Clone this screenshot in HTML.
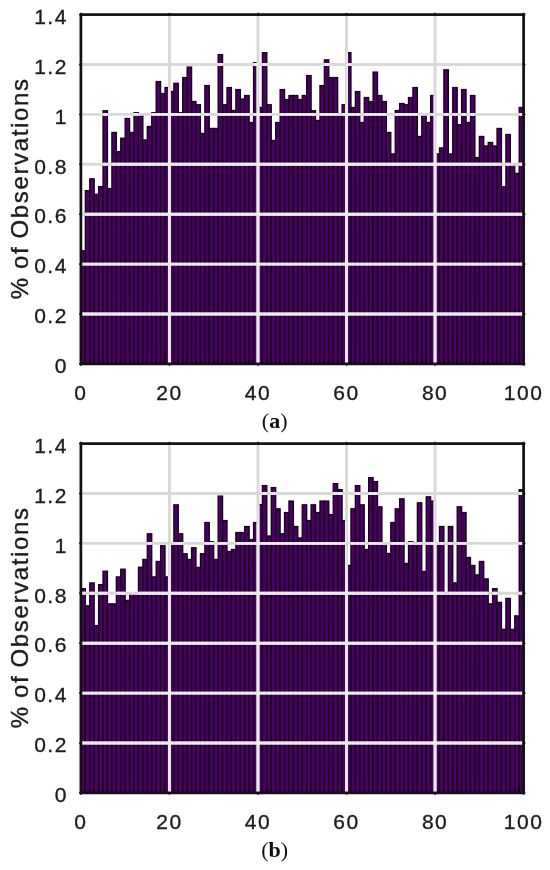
<!DOCTYPE html>
<html><head><meta charset="utf-8"><title>Histogram</title>
<style>
html,body{margin:0;padding:0;background:#fff;}
svg{display:block;}
.tk text{font-family:"Liberation Sans",Arial,Helvetica,sans-serif;font-size:21px;fill:#1c1c1c;letter-spacing:1.5px;stroke:#1c1c1c;stroke-width:0.35px;}
.yl{font-family:"Liberation Sans",Arial,Helvetica,sans-serif;font-size:24px;fill:#1c1c1c;letter-spacing:1.65px;word-spacing:-1.2px;stroke:#1c1c1c;stroke-width:0.35px;}
.cap{font-family:"Liberation Serif","DejaVu Serif",serif;font-size:22px;fill:#111;}
</style></head>
<body>
<svg width="550" height="870" viewBox="0 0 550 870">
<rect width="550" height="870" fill="#ffffff"/>
<g fill="#4a0062" stroke="#140018" stroke-width="1.3">
<rect x="80.90" y="250.73" width="4.43" height="113.17"/>
<rect x="85.33" y="190.60" width="4.43" height="173.30"/>
<rect x="89.75" y="178.87" width="4.43" height="185.03"/>
<rect x="94.18" y="194.34" width="4.43" height="169.56"/>
<rect x="98.61" y="186.61" width="4.43" height="177.29"/>
<rect x="103.04" y="110.76" width="4.43" height="253.14"/>
<rect x="107.46" y="188.60" width="4.43" height="175.30"/>
<rect x="111.89" y="132.46" width="4.43" height="231.44"/>
<rect x="116.32" y="151.68" width="4.43" height="212.22"/>
<rect x="120.74" y="138.20" width="4.43" height="225.70"/>
<rect x="125.17" y="118.49" width="4.43" height="245.41"/>
<rect x="129.60" y="132.46" width="4.43" height="231.44"/>
<rect x="134.02" y="112.75" width="4.43" height="251.15"/>
<rect x="138.45" y="115.50" width="4.43" height="248.40"/>
<rect x="142.88" y="139.95" width="4.43" height="223.95"/>
<rect x="147.31" y="126.48" width="4.43" height="237.42"/>
<rect x="151.73" y="112.75" width="4.43" height="251.15"/>
<rect x="156.16" y="81.57" width="4.43" height="282.33"/>
<rect x="160.59" y="93.54" width="4.43" height="270.36"/>
<rect x="165.01" y="87.55" width="4.43" height="276.35"/>
<rect x="169.44" y="91.55" width="4.43" height="272.35"/>
<rect x="173.87" y="83.31" width="4.43" height="280.59"/>
<rect x="178.29" y="112.75" width="4.43" height="251.15"/>
<rect x="182.72" y="77.58" width="4.43" height="286.32"/>
<rect x="187.15" y="67.10" width="4.43" height="296.80"/>
<rect x="191.58" y="101.53" width="4.43" height="262.37"/>
<rect x="196.00" y="104.77" width="4.43" height="259.13"/>
<rect x="200.43" y="133.46" width="4.43" height="230.44"/>
<rect x="204.86" y="85.56" width="4.43" height="278.34"/>
<rect x="209.28" y="128.47" width="4.43" height="235.43"/>
<rect x="213.71" y="128.47" width="4.43" height="235.43"/>
<rect x="218.14" y="54.62" width="4.43" height="309.28"/>
<rect x="222.56" y="104.77" width="4.43" height="259.13"/>
<rect x="226.99" y="87.55" width="4.43" height="276.35"/>
<rect x="231.42" y="110.51" width="4.43" height="253.39"/>
<rect x="235.85" y="89.55" width="4.43" height="274.35"/>
<rect x="240.27" y="99.03" width="4.43" height="264.87"/>
<rect x="244.70" y="95.54" width="4.43" height="268.36"/>
<rect x="249.13" y="122.49" width="4.43" height="241.41"/>
<rect x="253.55" y="62.60" width="4.43" height="301.29"/>
<rect x="257.98" y="107.52" width="4.43" height="256.38"/>
<rect x="262.41" y="52.63" width="4.43" height="311.27"/>
<rect x="266.83" y="104.77" width="4.43" height="259.13"/>
<rect x="271.26" y="140.45" width="4.43" height="223.45"/>
<rect x="275.69" y="122.49" width="4.43" height="241.41"/>
<rect x="280.12" y="89.55" width="4.43" height="274.35"/>
<rect x="284.54" y="99.53" width="4.43" height="264.37"/>
<rect x="288.97" y="95.54" width="4.43" height="268.36"/>
<rect x="293.40" y="95.54" width="4.43" height="268.36"/>
<rect x="297.82" y="99.53" width="4.43" height="264.37"/>
<rect x="302.25" y="95.54" width="4.43" height="268.36"/>
<rect x="306.68" y="75.58" width="4.43" height="288.32"/>
<rect x="311.10" y="110.76" width="4.43" height="253.14"/>
<rect x="315.53" y="120.49" width="4.43" height="243.41"/>
<rect x="319.96" y="85.56" width="4.43" height="278.34"/>
<rect x="324.38" y="59.86" width="4.43" height="304.04"/>
<rect x="328.81" y="77.58" width="4.43" height="286.32"/>
<rect x="333.24" y="77.58" width="4.43" height="286.32"/>
<rect x="337.67" y="115.00" width="4.43" height="248.90"/>
<rect x="342.09" y="104.77" width="4.43" height="259.13"/>
<rect x="346.52" y="52.63" width="4.43" height="311.27"/>
<rect x="350.95" y="107.52" width="4.43" height="256.38"/>
<rect x="355.37" y="91.55" width="4.43" height="272.35"/>
<rect x="359.80" y="122.49" width="4.43" height="241.41"/>
<rect x="364.23" y="97.53" width="4.43" height="266.37"/>
<rect x="368.66" y="101.53" width="4.43" height="262.37"/>
<rect x="373.08" y="72.09" width="4.43" height="291.81"/>
<rect x="377.51" y="95.54" width="4.43" height="268.36"/>
<rect x="381.94" y="101.53" width="4.43" height="262.37"/>
<rect x="386.36" y="132.46" width="4.43" height="231.44"/>
<rect x="390.79" y="153.92" width="4.43" height="209.98"/>
<rect x="395.22" y="110.51" width="4.43" height="253.39"/>
<rect x="399.64" y="103.52" width="4.43" height="260.38"/>
<rect x="404.07" y="104.77" width="4.43" height="259.13"/>
<rect x="408.50" y="97.53" width="4.43" height="266.37"/>
<rect x="412.93" y="87.55" width="4.43" height="276.35"/>
<rect x="417.35" y="136.46" width="4.43" height="227.44"/>
<rect x="421.78" y="115.50" width="4.43" height="248.40"/>
<rect x="426.21" y="122.49" width="4.43" height="241.41"/>
<rect x="430.63" y="95.54" width="4.43" height="268.36"/>
<rect x="435.06" y="153.92" width="4.43" height="209.98"/>
<rect x="439.49" y="147.93" width="4.43" height="215.97"/>
<rect x="443.91" y="69.84" width="4.43" height="294.06"/>
<rect x="448.34" y="153.92" width="4.43" height="209.98"/>
<rect x="452.77" y="87.55" width="4.43" height="276.35"/>
<rect x="457.20" y="124.73" width="4.43" height="239.17"/>
<rect x="461.62" y="89.55" width="4.43" height="274.35"/>
<rect x="466.05" y="122.49" width="4.43" height="241.41"/>
<rect x="470.48" y="95.54" width="4.43" height="268.36"/>
<rect x="474.90" y="157.66" width="4.43" height="206.24"/>
<rect x="479.33" y="136.46" width="4.43" height="227.44"/>
<rect x="483.76" y="145.94" width="4.43" height="217.96"/>
<rect x="488.18" y="142.44" width="4.43" height="221.45"/>
<rect x="492.61" y="145.94" width="4.43" height="217.96"/>
<rect x="497.04" y="128.47" width="4.43" height="235.43"/>
<rect x="501.47" y="186.86" width="4.43" height="177.04"/>
<rect x="505.89" y="134.46" width="4.43" height="229.44"/>
<rect x="510.32" y="165.40" width="4.43" height="198.50"/>
<rect x="514.75" y="173.38" width="4.43" height="190.52"/>
<rect x="519.17" y="107.52" width="4.43" height="256.38"/>
</g>
<g stroke="#d9d9d9" stroke-width="2.9">
<line x1="80.9" x2="523.6" y1="314.00" y2="314.00"/>
<line x1="80.9" x2="523.6" y1="264.10" y2="264.10"/>
<line x1="80.9" x2="523.6" y1="214.20" y2="214.20"/>
<line x1="80.9" x2="523.6" y1="164.30" y2="164.30"/>
<line x1="80.9" x2="523.6" y1="114.40" y2="114.40"/>
<line x1="80.9" x2="523.6" y1="64.50" y2="64.50"/>
<line x1="169.44" x2="169.44" y1="14.6" y2="363.9"/>
<line x1="257.98" x2="257.98" y1="14.6" y2="363.9"/>
<line x1="346.52" x2="346.52" y1="14.6" y2="363.9"/>
<line x1="435.06" x2="435.06" y1="14.6" y2="363.9"/>
</g>
<clipPath id="clipa">
<rect x="80.90" y="250.73" width="4.43" height="113.17"/>
<rect x="85.33" y="190.60" width="4.43" height="173.30"/>
<rect x="89.75" y="178.87" width="4.43" height="185.03"/>
<rect x="94.18" y="194.34" width="4.43" height="169.56"/>
<rect x="98.61" y="186.61" width="4.43" height="177.29"/>
<rect x="103.04" y="110.76" width="4.43" height="253.14"/>
<rect x="107.46" y="188.60" width="4.43" height="175.30"/>
<rect x="111.89" y="132.46" width="4.43" height="231.44"/>
<rect x="116.32" y="151.68" width="4.43" height="212.22"/>
<rect x="120.74" y="138.20" width="4.43" height="225.70"/>
<rect x="125.17" y="118.49" width="4.43" height="245.41"/>
<rect x="129.60" y="132.46" width="4.43" height="231.44"/>
<rect x="134.02" y="112.75" width="4.43" height="251.15"/>
<rect x="138.45" y="115.50" width="4.43" height="248.40"/>
<rect x="142.88" y="139.95" width="4.43" height="223.95"/>
<rect x="147.31" y="126.48" width="4.43" height="237.42"/>
<rect x="151.73" y="112.75" width="4.43" height="251.15"/>
<rect x="156.16" y="81.57" width="4.43" height="282.33"/>
<rect x="160.59" y="93.54" width="4.43" height="270.36"/>
<rect x="165.01" y="87.55" width="4.43" height="276.35"/>
<rect x="169.44" y="91.55" width="4.43" height="272.35"/>
<rect x="173.87" y="83.31" width="4.43" height="280.59"/>
<rect x="178.29" y="112.75" width="4.43" height="251.15"/>
<rect x="182.72" y="77.58" width="4.43" height="286.32"/>
<rect x="187.15" y="67.10" width="4.43" height="296.80"/>
<rect x="191.58" y="101.53" width="4.43" height="262.37"/>
<rect x="196.00" y="104.77" width="4.43" height="259.13"/>
<rect x="200.43" y="133.46" width="4.43" height="230.44"/>
<rect x="204.86" y="85.56" width="4.43" height="278.34"/>
<rect x="209.28" y="128.47" width="4.43" height="235.43"/>
<rect x="213.71" y="128.47" width="4.43" height="235.43"/>
<rect x="218.14" y="54.62" width="4.43" height="309.28"/>
<rect x="222.56" y="104.77" width="4.43" height="259.13"/>
<rect x="226.99" y="87.55" width="4.43" height="276.35"/>
<rect x="231.42" y="110.51" width="4.43" height="253.39"/>
<rect x="235.85" y="89.55" width="4.43" height="274.35"/>
<rect x="240.27" y="99.03" width="4.43" height="264.87"/>
<rect x="244.70" y="95.54" width="4.43" height="268.36"/>
<rect x="249.13" y="122.49" width="4.43" height="241.41"/>
<rect x="253.55" y="62.60" width="4.43" height="301.29"/>
<rect x="257.98" y="107.52" width="4.43" height="256.38"/>
<rect x="262.41" y="52.63" width="4.43" height="311.27"/>
<rect x="266.83" y="104.77" width="4.43" height="259.13"/>
<rect x="271.26" y="140.45" width="4.43" height="223.45"/>
<rect x="275.69" y="122.49" width="4.43" height="241.41"/>
<rect x="280.12" y="89.55" width="4.43" height="274.35"/>
<rect x="284.54" y="99.53" width="4.43" height="264.37"/>
<rect x="288.97" y="95.54" width="4.43" height="268.36"/>
<rect x="293.40" y="95.54" width="4.43" height="268.36"/>
<rect x="297.82" y="99.53" width="4.43" height="264.37"/>
<rect x="302.25" y="95.54" width="4.43" height="268.36"/>
<rect x="306.68" y="75.58" width="4.43" height="288.32"/>
<rect x="311.10" y="110.76" width="4.43" height="253.14"/>
<rect x="315.53" y="120.49" width="4.43" height="243.41"/>
<rect x="319.96" y="85.56" width="4.43" height="278.34"/>
<rect x="324.38" y="59.86" width="4.43" height="304.04"/>
<rect x="328.81" y="77.58" width="4.43" height="286.32"/>
<rect x="333.24" y="77.58" width="4.43" height="286.32"/>
<rect x="337.67" y="115.00" width="4.43" height="248.90"/>
<rect x="342.09" y="104.77" width="4.43" height="259.13"/>
<rect x="346.52" y="52.63" width="4.43" height="311.27"/>
<rect x="350.95" y="107.52" width="4.43" height="256.38"/>
<rect x="355.37" y="91.55" width="4.43" height="272.35"/>
<rect x="359.80" y="122.49" width="4.43" height="241.41"/>
<rect x="364.23" y="97.53" width="4.43" height="266.37"/>
<rect x="368.66" y="101.53" width="4.43" height="262.37"/>
<rect x="373.08" y="72.09" width="4.43" height="291.81"/>
<rect x="377.51" y="95.54" width="4.43" height="268.36"/>
<rect x="381.94" y="101.53" width="4.43" height="262.37"/>
<rect x="386.36" y="132.46" width="4.43" height="231.44"/>
<rect x="390.79" y="153.92" width="4.43" height="209.98"/>
<rect x="395.22" y="110.51" width="4.43" height="253.39"/>
<rect x="399.64" y="103.52" width="4.43" height="260.38"/>
<rect x="404.07" y="104.77" width="4.43" height="259.13"/>
<rect x="408.50" y="97.53" width="4.43" height="266.37"/>
<rect x="412.93" y="87.55" width="4.43" height="276.35"/>
<rect x="417.35" y="136.46" width="4.43" height="227.44"/>
<rect x="421.78" y="115.50" width="4.43" height="248.40"/>
<rect x="426.21" y="122.49" width="4.43" height="241.41"/>
<rect x="430.63" y="95.54" width="4.43" height="268.36"/>
<rect x="435.06" y="153.92" width="4.43" height="209.98"/>
<rect x="439.49" y="147.93" width="4.43" height="215.97"/>
<rect x="443.91" y="69.84" width="4.43" height="294.06"/>
<rect x="448.34" y="153.92" width="4.43" height="209.98"/>
<rect x="452.77" y="87.55" width="4.43" height="276.35"/>
<rect x="457.20" y="124.73" width="4.43" height="239.17"/>
<rect x="461.62" y="89.55" width="4.43" height="274.35"/>
<rect x="466.05" y="122.49" width="4.43" height="241.41"/>
<rect x="470.48" y="95.54" width="4.43" height="268.36"/>
<rect x="474.90" y="157.66" width="4.43" height="206.24"/>
<rect x="479.33" y="136.46" width="4.43" height="227.44"/>
<rect x="483.76" y="145.94" width="4.43" height="217.96"/>
<rect x="488.18" y="142.44" width="4.43" height="221.45"/>
<rect x="492.61" y="145.94" width="4.43" height="217.96"/>
<rect x="497.04" y="128.47" width="4.43" height="235.43"/>
<rect x="501.47" y="186.86" width="4.43" height="177.04"/>
<rect x="505.89" y="134.46" width="4.43" height="229.44"/>
<rect x="510.32" y="165.40" width="4.43" height="198.50"/>
<rect x="514.75" y="173.38" width="4.43" height="190.52"/>
<rect x="519.17" y="107.52" width="4.43" height="256.38"/>
</clipPath>
<g clip-path="url(#clipa)">
<g stroke="#ececec" stroke-width="2.9">
<line x1="80.9" x2="523.6" y1="314.00" y2="314.00"/>
<line x1="80.9" x2="523.6" y1="264.10" y2="264.10"/>
<line x1="80.9" x2="523.6" y1="214.20" y2="214.20"/>
<line x1="80.9" x2="523.6" y1="164.30" y2="164.30"/>
<line x1="80.9" x2="523.6" y1="114.40" y2="114.40"/>
<line x1="80.9" x2="523.6" y1="64.50" y2="64.50"/>
<line x1="169.44" x2="169.44" y1="14.6" y2="363.9"/>
<line x1="257.98" x2="257.98" y1="14.6" y2="363.9"/>
<line x1="346.52" x2="346.52" y1="14.6" y2="363.9"/>
<line x1="435.06" x2="435.06" y1="14.6" y2="363.9"/>
</g>
</g>
<rect x="80.9" y="14.6" width="442.70" height="349.30" fill="none" stroke="#111111" stroke-width="2.7"/>
<g stroke="#111111" stroke-width="1.6">
<line x1="79.10000000000001" x2="81.9" y1="363.90" y2="363.90"/>
<line x1="522.6" x2="525.4" y1="363.90" y2="363.90"/>
<line x1="79.10000000000001" x2="81.9" y1="314.00" y2="314.00"/>
<line x1="522.6" x2="525.4" y1="314.00" y2="314.00"/>
<line x1="79.10000000000001" x2="81.9" y1="264.10" y2="264.10"/>
<line x1="522.6" x2="525.4" y1="264.10" y2="264.10"/>
<line x1="79.10000000000001" x2="81.9" y1="214.20" y2="214.20"/>
<line x1="522.6" x2="525.4" y1="214.20" y2="214.20"/>
<line x1="79.10000000000001" x2="81.9" y1="164.30" y2="164.30"/>
<line x1="522.6" x2="525.4" y1="164.30" y2="164.30"/>
<line x1="79.10000000000001" x2="81.9" y1="114.40" y2="114.40"/>
<line x1="522.6" x2="525.4" y1="114.40" y2="114.40"/>
<line x1="79.10000000000001" x2="81.9" y1="64.50" y2="64.50"/>
<line x1="522.6" x2="525.4" y1="64.50" y2="64.50"/>
<line x1="79.10000000000001" x2="81.9" y1="14.60" y2="14.60"/>
<line x1="522.6" x2="525.4" y1="14.60" y2="14.60"/>
<line x1="80.90" x2="80.90" y1="362.9" y2="365.7"/>
<line x1="80.90" x2="80.90" y1="12.799999999999999" y2="15.6"/>
<line x1="169.44" x2="169.44" y1="362.9" y2="365.7"/>
<line x1="169.44" x2="169.44" y1="12.799999999999999" y2="15.6"/>
<line x1="257.98" x2="257.98" y1="362.9" y2="365.7"/>
<line x1="257.98" x2="257.98" y1="12.799999999999999" y2="15.6"/>
<line x1="346.52" x2="346.52" y1="362.9" y2="365.7"/>
<line x1="346.52" x2="346.52" y1="12.799999999999999" y2="15.6"/>
<line x1="435.06" x2="435.06" y1="362.9" y2="365.7"/>
<line x1="435.06" x2="435.06" y1="12.799999999999999" y2="15.6"/>
<line x1="523.60" x2="523.60" y1="362.9" y2="365.7"/>
<line x1="523.60" x2="523.60" y1="12.799999999999999" y2="15.6"/>
</g>
<g class="tk" text-anchor="end">
<text x="67.9" y="373.10">0</text>
<text x="67.9" y="323.20">0.2</text>
<text x="67.9" y="273.30">0.4</text>
<text x="67.9" y="223.40">0.6</text>
<text x="67.9" y="173.50">0.8</text>
<text x="67.9" y="123.60">1</text>
<text x="67.9" y="73.70">1.2</text>
<text x="67.9" y="23.80">1.4</text>
</g>
<g class="tk" text-anchor="middle">
<text x="80.90" y="399.80">0</text>
<text x="169.44" y="399.80">20</text>
<text x="257.98" y="399.80">40</text>
<text x="346.52" y="399.80">60</text>
<text x="435.06" y="399.80">80</text>
<text x="523.60" y="399.80">100</text>
</g>
<text class="yl" text-anchor="middle" transform="translate(27.8,188.25) rotate(-90)">% of Observations</text>
<text class="cap" text-anchor="middle" x="274.7" y="428.4">(<tspan font-weight="bold">a</tspan>)</text>
<g fill="#4a0062" stroke="#140018" stroke-width="1.3">
<rect x="80.90" y="588.66" width="4.43" height="204.24"/>
<rect x="85.33" y="605.88" width="4.43" height="187.02"/>
<rect x="89.75" y="582.92" width="4.43" height="209.98"/>
<rect x="94.18" y="625.59" width="4.43" height="167.31"/>
<rect x="98.61" y="584.67" width="4.43" height="208.23"/>
<rect x="103.04" y="571.20" width="4.43" height="221.70"/>
<rect x="107.46" y="603.88" width="4.43" height="189.02"/>
<rect x="111.89" y="603.88" width="4.43" height="189.02"/>
<rect x="116.32" y="576.93" width="4.43" height="215.97"/>
<rect x="120.74" y="569.20" width="4.43" height="223.70"/>
<rect x="125.17" y="600.39" width="4.43" height="192.51"/>
<rect x="129.60" y="594.40" width="4.43" height="198.50"/>
<rect x="134.02" y="594.40" width="4.43" height="198.50"/>
<rect x="138.45" y="567.20" width="4.43" height="225.70"/>
<rect x="142.88" y="559.47" width="4.43" height="233.43"/>
<rect x="147.31" y="533.77" width="4.43" height="259.13"/>
<rect x="151.73" y="576.93" width="4.43" height="215.97"/>
<rect x="156.16" y="561.47" width="4.43" height="231.43"/>
<rect x="160.59" y="545.75" width="4.43" height="247.15"/>
<rect x="165.01" y="576.93" width="4.43" height="215.97"/>
<rect x="169.44" y="544.00" width="4.43" height="248.90"/>
<rect x="173.87" y="504.83" width="4.43" height="288.07"/>
<rect x="178.29" y="533.77" width="4.43" height="259.13"/>
<rect x="182.72" y="553.73" width="4.43" height="239.17"/>
<rect x="187.15" y="559.47" width="4.43" height="233.43"/>
<rect x="191.58" y="547.74" width="4.43" height="245.16"/>
<rect x="196.00" y="567.45" width="4.43" height="225.45"/>
<rect x="200.43" y="553.73" width="4.43" height="239.17"/>
<rect x="204.86" y="522.54" width="4.43" height="270.36"/>
<rect x="209.28" y="541.75" width="4.43" height="251.15"/>
<rect x="213.71" y="559.47" width="4.43" height="233.43"/>
<rect x="218.14" y="496.10" width="4.43" height="296.80"/>
<rect x="222.56" y="520.55" width="4.43" height="272.35"/>
<rect x="226.99" y="551.49" width="4.43" height="241.41"/>
<rect x="231.42" y="549.49" width="4.43" height="243.41"/>
<rect x="235.85" y="532.52" width="4.43" height="260.38"/>
<rect x="240.27" y="532.52" width="4.43" height="260.38"/>
<rect x="244.70" y="526.53" width="4.43" height="266.37"/>
<rect x="249.13" y="539.51" width="4.43" height="253.39"/>
<rect x="253.55" y="522.54" width="4.43" height="270.36"/>
<rect x="257.98" y="504.58" width="4.43" height="288.32"/>
<rect x="262.41" y="485.62" width="4.43" height="307.28"/>
<rect x="266.83" y="536.02" width="4.43" height="256.88"/>
<rect x="271.26" y="487.61" width="4.43" height="305.29"/>
<rect x="275.69" y="508.82" width="4.43" height="284.08"/>
<rect x="280.12" y="533.77" width="4.43" height="259.13"/>
<rect x="284.54" y="512.56" width="4.43" height="280.34"/>
<rect x="288.97" y="501.09" width="4.43" height="291.81"/>
<rect x="293.40" y="526.53" width="4.43" height="266.37"/>
<rect x="297.82" y="538.01" width="4.43" height="254.89"/>
<rect x="302.25" y="504.83" width="4.43" height="288.07"/>
<rect x="306.68" y="520.55" width="4.43" height="272.35"/>
<rect x="311.10" y="504.83" width="4.43" height="288.07"/>
<rect x="315.53" y="512.56" width="4.43" height="280.34"/>
<rect x="319.96" y="501.09" width="4.43" height="291.81"/>
<rect x="324.38" y="501.09" width="4.43" height="291.81"/>
<rect x="328.81" y="514.56" width="4.43" height="278.34"/>
<rect x="333.24" y="483.62" width="4.43" height="309.28"/>
<rect x="337.67" y="489.61" width="4.43" height="303.29"/>
<rect x="342.09" y="520.55" width="4.43" height="272.35"/>
<rect x="346.52" y="565.46" width="4.43" height="227.44"/>
<rect x="350.95" y="508.82" width="4.43" height="284.08"/>
<rect x="355.37" y="485.62" width="4.43" height="307.28"/>
<rect x="359.80" y="504.83" width="4.43" height="288.07"/>
<rect x="364.23" y="549.49" width="4.43" height="243.41"/>
<rect x="368.66" y="477.63" width="4.43" height="315.27"/>
<rect x="373.08" y="481.63" width="4.43" height="311.27"/>
<rect x="377.51" y="506.82" width="4.43" height="286.08"/>
<rect x="381.94" y="544.00" width="4.43" height="248.90"/>
<rect x="386.36" y="553.48" width="4.43" height="239.42"/>
<rect x="390.79" y="522.54" width="4.43" height="270.36"/>
<rect x="395.22" y="508.82" width="4.43" height="284.08"/>
<rect x="399.64" y="498.84" width="4.43" height="294.06"/>
<rect x="404.07" y="563.46" width="4.43" height="229.44"/>
<rect x="408.50" y="541.75" width="4.43" height="251.15"/>
<rect x="412.93" y="544.00" width="4.43" height="248.90"/>
<rect x="417.35" y="502.83" width="4.43" height="290.07"/>
<rect x="421.78" y="571.45" width="4.43" height="221.45"/>
<rect x="426.21" y="496.84" width="4.43" height="296.06"/>
<rect x="430.63" y="501.09" width="4.43" height="291.81"/>
<rect x="435.06" y="544.00" width="4.43" height="248.90"/>
<rect x="439.49" y="526.53" width="4.43" height="266.37"/>
<rect x="443.91" y="593.90" width="4.43" height="199.00"/>
<rect x="448.34" y="526.53" width="4.43" height="266.37"/>
<rect x="452.77" y="582.92" width="4.43" height="209.98"/>
<rect x="457.20" y="506.82" width="4.43" height="286.08"/>
<rect x="461.62" y="512.56" width="4.43" height="280.34"/>
<rect x="466.05" y="557.47" width="4.43" height="235.43"/>
<rect x="470.48" y="565.46" width="4.43" height="227.44"/>
<rect x="474.90" y="574.94" width="4.43" height="217.96"/>
<rect x="479.33" y="561.47" width="4.43" height="231.43"/>
<rect x="483.76" y="578.93" width="4.43" height="213.97"/>
<rect x="488.18" y="603.88" width="4.43" height="189.02"/>
<rect x="492.61" y="588.66" width="4.43" height="204.24"/>
<rect x="497.04" y="602.38" width="4.43" height="190.52"/>
<rect x="501.47" y="629.33" width="4.43" height="163.57"/>
<rect x="505.89" y="598.39" width="4.43" height="194.51"/>
<rect x="510.32" y="629.33" width="4.43" height="163.57"/>
<rect x="514.75" y="615.86" width="4.43" height="177.04"/>
<rect x="519.17" y="489.61" width="4.43" height="303.29"/>
</g>
<g stroke="#d9d9d9" stroke-width="2.9">
<line x1="80.9" x2="523.6" y1="743.00" y2="743.00"/>
<line x1="80.9" x2="523.6" y1="693.10" y2="693.10"/>
<line x1="80.9" x2="523.6" y1="643.20" y2="643.20"/>
<line x1="80.9" x2="523.6" y1="593.30" y2="593.30"/>
<line x1="80.9" x2="523.6" y1="543.40" y2="543.40"/>
<line x1="80.9" x2="523.6" y1="493.50" y2="493.50"/>
<line x1="169.44" x2="169.44" y1="443.6" y2="792.9"/>
<line x1="257.98" x2="257.98" y1="443.6" y2="792.9"/>
<line x1="346.52" x2="346.52" y1="443.6" y2="792.9"/>
<line x1="435.06" x2="435.06" y1="443.6" y2="792.9"/>
</g>
<clipPath id="clipb">
<rect x="80.90" y="588.66" width="4.43" height="204.24"/>
<rect x="85.33" y="605.88" width="4.43" height="187.02"/>
<rect x="89.75" y="582.92" width="4.43" height="209.98"/>
<rect x="94.18" y="625.59" width="4.43" height="167.31"/>
<rect x="98.61" y="584.67" width="4.43" height="208.23"/>
<rect x="103.04" y="571.20" width="4.43" height="221.70"/>
<rect x="107.46" y="603.88" width="4.43" height="189.02"/>
<rect x="111.89" y="603.88" width="4.43" height="189.02"/>
<rect x="116.32" y="576.93" width="4.43" height="215.97"/>
<rect x="120.74" y="569.20" width="4.43" height="223.70"/>
<rect x="125.17" y="600.39" width="4.43" height="192.51"/>
<rect x="129.60" y="594.40" width="4.43" height="198.50"/>
<rect x="134.02" y="594.40" width="4.43" height="198.50"/>
<rect x="138.45" y="567.20" width="4.43" height="225.70"/>
<rect x="142.88" y="559.47" width="4.43" height="233.43"/>
<rect x="147.31" y="533.77" width="4.43" height="259.13"/>
<rect x="151.73" y="576.93" width="4.43" height="215.97"/>
<rect x="156.16" y="561.47" width="4.43" height="231.43"/>
<rect x="160.59" y="545.75" width="4.43" height="247.15"/>
<rect x="165.01" y="576.93" width="4.43" height="215.97"/>
<rect x="169.44" y="544.00" width="4.43" height="248.90"/>
<rect x="173.87" y="504.83" width="4.43" height="288.07"/>
<rect x="178.29" y="533.77" width="4.43" height="259.13"/>
<rect x="182.72" y="553.73" width="4.43" height="239.17"/>
<rect x="187.15" y="559.47" width="4.43" height="233.43"/>
<rect x="191.58" y="547.74" width="4.43" height="245.16"/>
<rect x="196.00" y="567.45" width="4.43" height="225.45"/>
<rect x="200.43" y="553.73" width="4.43" height="239.17"/>
<rect x="204.86" y="522.54" width="4.43" height="270.36"/>
<rect x="209.28" y="541.75" width="4.43" height="251.15"/>
<rect x="213.71" y="559.47" width="4.43" height="233.43"/>
<rect x="218.14" y="496.10" width="4.43" height="296.80"/>
<rect x="222.56" y="520.55" width="4.43" height="272.35"/>
<rect x="226.99" y="551.49" width="4.43" height="241.41"/>
<rect x="231.42" y="549.49" width="4.43" height="243.41"/>
<rect x="235.85" y="532.52" width="4.43" height="260.38"/>
<rect x="240.27" y="532.52" width="4.43" height="260.38"/>
<rect x="244.70" y="526.53" width="4.43" height="266.37"/>
<rect x="249.13" y="539.51" width="4.43" height="253.39"/>
<rect x="253.55" y="522.54" width="4.43" height="270.36"/>
<rect x="257.98" y="504.58" width="4.43" height="288.32"/>
<rect x="262.41" y="485.62" width="4.43" height="307.28"/>
<rect x="266.83" y="536.02" width="4.43" height="256.88"/>
<rect x="271.26" y="487.61" width="4.43" height="305.29"/>
<rect x="275.69" y="508.82" width="4.43" height="284.08"/>
<rect x="280.12" y="533.77" width="4.43" height="259.13"/>
<rect x="284.54" y="512.56" width="4.43" height="280.34"/>
<rect x="288.97" y="501.09" width="4.43" height="291.81"/>
<rect x="293.40" y="526.53" width="4.43" height="266.37"/>
<rect x="297.82" y="538.01" width="4.43" height="254.89"/>
<rect x="302.25" y="504.83" width="4.43" height="288.07"/>
<rect x="306.68" y="520.55" width="4.43" height="272.35"/>
<rect x="311.10" y="504.83" width="4.43" height="288.07"/>
<rect x="315.53" y="512.56" width="4.43" height="280.34"/>
<rect x="319.96" y="501.09" width="4.43" height="291.81"/>
<rect x="324.38" y="501.09" width="4.43" height="291.81"/>
<rect x="328.81" y="514.56" width="4.43" height="278.34"/>
<rect x="333.24" y="483.62" width="4.43" height="309.28"/>
<rect x="337.67" y="489.61" width="4.43" height="303.29"/>
<rect x="342.09" y="520.55" width="4.43" height="272.35"/>
<rect x="346.52" y="565.46" width="4.43" height="227.44"/>
<rect x="350.95" y="508.82" width="4.43" height="284.08"/>
<rect x="355.37" y="485.62" width="4.43" height="307.28"/>
<rect x="359.80" y="504.83" width="4.43" height="288.07"/>
<rect x="364.23" y="549.49" width="4.43" height="243.41"/>
<rect x="368.66" y="477.63" width="4.43" height="315.27"/>
<rect x="373.08" y="481.63" width="4.43" height="311.27"/>
<rect x="377.51" y="506.82" width="4.43" height="286.08"/>
<rect x="381.94" y="544.00" width="4.43" height="248.90"/>
<rect x="386.36" y="553.48" width="4.43" height="239.42"/>
<rect x="390.79" y="522.54" width="4.43" height="270.36"/>
<rect x="395.22" y="508.82" width="4.43" height="284.08"/>
<rect x="399.64" y="498.84" width="4.43" height="294.06"/>
<rect x="404.07" y="563.46" width="4.43" height="229.44"/>
<rect x="408.50" y="541.75" width="4.43" height="251.15"/>
<rect x="412.93" y="544.00" width="4.43" height="248.90"/>
<rect x="417.35" y="502.83" width="4.43" height="290.07"/>
<rect x="421.78" y="571.45" width="4.43" height="221.45"/>
<rect x="426.21" y="496.84" width="4.43" height="296.06"/>
<rect x="430.63" y="501.09" width="4.43" height="291.81"/>
<rect x="435.06" y="544.00" width="4.43" height="248.90"/>
<rect x="439.49" y="526.53" width="4.43" height="266.37"/>
<rect x="443.91" y="593.90" width="4.43" height="199.00"/>
<rect x="448.34" y="526.53" width="4.43" height="266.37"/>
<rect x="452.77" y="582.92" width="4.43" height="209.98"/>
<rect x="457.20" y="506.82" width="4.43" height="286.08"/>
<rect x="461.62" y="512.56" width="4.43" height="280.34"/>
<rect x="466.05" y="557.47" width="4.43" height="235.43"/>
<rect x="470.48" y="565.46" width="4.43" height="227.44"/>
<rect x="474.90" y="574.94" width="4.43" height="217.96"/>
<rect x="479.33" y="561.47" width="4.43" height="231.43"/>
<rect x="483.76" y="578.93" width="4.43" height="213.97"/>
<rect x="488.18" y="603.88" width="4.43" height="189.02"/>
<rect x="492.61" y="588.66" width="4.43" height="204.24"/>
<rect x="497.04" y="602.38" width="4.43" height="190.52"/>
<rect x="501.47" y="629.33" width="4.43" height="163.57"/>
<rect x="505.89" y="598.39" width="4.43" height="194.51"/>
<rect x="510.32" y="629.33" width="4.43" height="163.57"/>
<rect x="514.75" y="615.86" width="4.43" height="177.04"/>
<rect x="519.17" y="489.61" width="4.43" height="303.29"/>
</clipPath>
<g clip-path="url(#clipb)">
<g stroke="#ececec" stroke-width="2.9">
<line x1="80.9" x2="523.6" y1="743.00" y2="743.00"/>
<line x1="80.9" x2="523.6" y1="693.10" y2="693.10"/>
<line x1="80.9" x2="523.6" y1="643.20" y2="643.20"/>
<line x1="80.9" x2="523.6" y1="593.30" y2="593.30"/>
<line x1="80.9" x2="523.6" y1="543.40" y2="543.40"/>
<line x1="80.9" x2="523.6" y1="493.50" y2="493.50"/>
<line x1="169.44" x2="169.44" y1="443.6" y2="792.9"/>
<line x1="257.98" x2="257.98" y1="443.6" y2="792.9"/>
<line x1="346.52" x2="346.52" y1="443.6" y2="792.9"/>
<line x1="435.06" x2="435.06" y1="443.6" y2="792.9"/>
</g>
</g>
<rect x="80.9" y="443.6" width="442.70" height="349.30" fill="none" stroke="#111111" stroke-width="2.7"/>
<g stroke="#111111" stroke-width="1.6">
<line x1="79.10000000000001" x2="81.9" y1="792.90" y2="792.90"/>
<line x1="522.6" x2="525.4" y1="792.90" y2="792.90"/>
<line x1="79.10000000000001" x2="81.9" y1="743.00" y2="743.00"/>
<line x1="522.6" x2="525.4" y1="743.00" y2="743.00"/>
<line x1="79.10000000000001" x2="81.9" y1="693.10" y2="693.10"/>
<line x1="522.6" x2="525.4" y1="693.10" y2="693.10"/>
<line x1="79.10000000000001" x2="81.9" y1="643.20" y2="643.20"/>
<line x1="522.6" x2="525.4" y1="643.20" y2="643.20"/>
<line x1="79.10000000000001" x2="81.9" y1="593.30" y2="593.30"/>
<line x1="522.6" x2="525.4" y1="593.30" y2="593.30"/>
<line x1="79.10000000000001" x2="81.9" y1="543.40" y2="543.40"/>
<line x1="522.6" x2="525.4" y1="543.40" y2="543.40"/>
<line x1="79.10000000000001" x2="81.9" y1="493.50" y2="493.50"/>
<line x1="522.6" x2="525.4" y1="493.50" y2="493.50"/>
<line x1="79.10000000000001" x2="81.9" y1="443.60" y2="443.60"/>
<line x1="522.6" x2="525.4" y1="443.60" y2="443.60"/>
<line x1="80.90" x2="80.90" y1="791.9" y2="794.6999999999999"/>
<line x1="80.90" x2="80.90" y1="441.8" y2="444.6"/>
<line x1="169.44" x2="169.44" y1="791.9" y2="794.6999999999999"/>
<line x1="169.44" x2="169.44" y1="441.8" y2="444.6"/>
<line x1="257.98" x2="257.98" y1="791.9" y2="794.6999999999999"/>
<line x1="257.98" x2="257.98" y1="441.8" y2="444.6"/>
<line x1="346.52" x2="346.52" y1="791.9" y2="794.6999999999999"/>
<line x1="346.52" x2="346.52" y1="441.8" y2="444.6"/>
<line x1="435.06" x2="435.06" y1="791.9" y2="794.6999999999999"/>
<line x1="435.06" x2="435.06" y1="441.8" y2="444.6"/>
<line x1="523.60" x2="523.60" y1="791.9" y2="794.6999999999999"/>
<line x1="523.60" x2="523.60" y1="441.8" y2="444.6"/>
</g>
<g class="tk" text-anchor="end">
<text x="67.9" y="802.10">0</text>
<text x="67.9" y="752.20">0.2</text>
<text x="67.9" y="702.30">0.4</text>
<text x="67.9" y="652.40">0.6</text>
<text x="67.9" y="602.50">0.8</text>
<text x="67.9" y="552.60">1</text>
<text x="67.9" y="502.70">1.2</text>
<text x="67.9" y="452.80">1.4</text>
</g>
<g class="tk" text-anchor="middle">
<text x="80.90" y="829.30">0</text>
<text x="169.44" y="829.30">20</text>
<text x="257.98" y="829.30">40</text>
<text x="346.52" y="829.30">60</text>
<text x="435.06" y="829.30">80</text>
<text x="523.60" y="829.30">100</text>
</g>
<text class="yl" text-anchor="middle" transform="translate(27.8,617.25) rotate(-90)">% of Observations</text>
<text class="cap" text-anchor="middle" x="274.7" y="857.4">(<tspan font-weight="bold">b</tspan>)</text>
</svg>
</body></html>
